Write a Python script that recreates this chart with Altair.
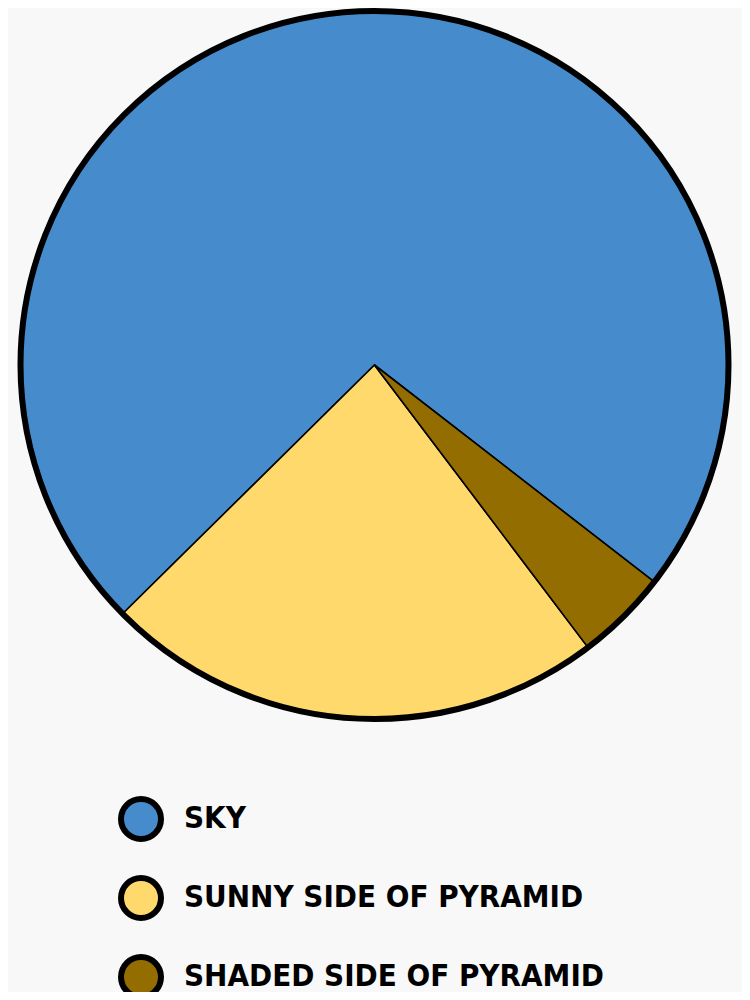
import altair as alt
import pandas as pd
import math

# Data: share of the pie in percent
labels = ["SKY", "SUNNY SIDE OF PYRAMID", "SHADED SIDE OF PYRAMID"]
values = [72.9, 22.9, 4.2]
draw_order = [1, 3, 2]
colors = ["#468BCB", "#FFD96B", "#946D00"]

df = pd.DataFrame({"cat": labels, "value": values, "ord": draw_order})

start = math.radians(225.35)
CX, CY, R = 366.5, 357, 354

pie = alt.Chart(df).mark_arc(radius=R, stroke="black", strokeWidth=1.6).encode(
    theta=alt.Theta("value:Q", stack=True,
                    scale=alt.Scale(range=[start, start + 2 * math.pi])),
    color=alt.Color("cat:N",
                    scale=alt.Scale(domain=labels, range=colors),
                    legend=alt.Legend(
                        title=None, orient="none", legendX=110, legendY=788,
                        direction="vertical",
                        symbolType="circle", symbolSize=1600,
                        symbolStrokeColor="black", symbolStrokeWidth=6,
                        symbolOpacity=1,
                        labelFont="DejaVu Sans Condensed",
                        labelFontSize=31, labelFontWeight="bold",
                        labelColor="black", labelOffset=20,
                        rowPadding=15, labelLimit=700)),
    order=alt.Order("ord:Q"),
    x=alt.value(CX),
    y=alt.value(CY),
)

ring_df = pd.DataFrame({"v": [1]})
ring = alt.Chart(ring_df).mark_arc(
    radius=R, theta=0, theta2=2 * math.pi, fillOpacity=0, fill="white",
    stroke="black", strokeWidth=6
).encode(x=alt.value(CX), y=alt.value(CY))

chart = alt.layer(pie, ring).properties(
    width=734, height=984, autosize=alt.AutoSizeParams(type="none"), padding=0,
    background="#f8f8f8"
).configure_view(stroke=None)

chart.save("out.html", embed_options={"renderer": "svg", "actions": False})
